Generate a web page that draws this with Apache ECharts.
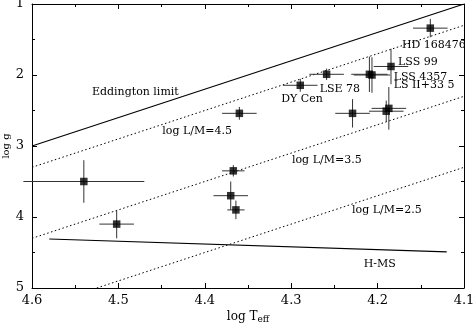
<!DOCTYPE html>
<html>
<head>
<meta charset="utf-8">
<script src="https://cdn.jsdelivr.net/npm/echarts@6/dist/echarts.min.js"></script>
<style>html,body{margin:0;padding:0;background:#fff}#c{width:474px;height:323px}</style>
</head>
<body>
<div id="c"></div>
<script>
// ---- data ----
var teff    = [4.139, 4.1845, 4.2095, 4.2065, 4.259, 4.2895, 4.360, 4.229, 4.190, 4.187, 4.540, 4.502, 4.367, 4.370, 4.364];
var logg    = [1.34, 1.88, 1.99, 2.00, 1.99, 2.145, 2.54, 2.54, 2.51, 2.47, 3.50, 4.10, 3.35, 3.70, 3.90];
var teffErr = [0.02, 0.02, 0.021, 0.021, 0.02, 0.02, 0.02, 0.02, 0.02, 0.02, 0.07, 0.02, 0.013, 0.02, 0.01];
var loggErr = [0.13, 0.25, 0.25, 0.25, 0.08, 0.09, 0.09, 0.2, 0.15, 0.3, 0.3, 0.2, 0.08, 0.2, 0.13];

var eddington = [[4.6, 3.0], [4.1, 1.0]];
var lm45 = [[4.6, 3.3], [4.1, 1.3]];
var lm35 = [[4.6, 4.3], [4.1, 2.3]];
var lm25 = [[4.525, 5.0], [4.1, 3.3]];
var hms  = [[4.58, 4.31], [4.12, 4.49]];

var xTicks = [4.6, 4.5, 4.4, 4.3, 4.2, 4.1];
var yTicks = [1, 2, 3, 4, 5];

var labelTexts = ['Eddington limit', 'log L/M=4.5', 'log L/M=3.5', 'log L/M=2.5', 'H-MS',
                  'HD 168476', 'LSS 99', 'LSS 4357', 'LS II+33 5', 'LSE 78', 'DY Cen'];
var labelT = [4.5306, 4.4492, 4.2991, 4.2296, 4.2161, 4.1718, 4.1764, 4.1814, 4.1814, 4.267, 4.3115];
var labelG = [2.239, 2.789, 3.197, 3.901, 4.662, 1.577, 1.813, 2.024, 2.145, 2.201, 2.338];

// ---- chart ----
var FONT = '"DejaVu Serif", "Liberation Serif", serif';
var chart = echarts.init(document.getElementById('c'), null, {renderer: 'canvas'});

function xAx(pos, showLabel) {
  return {
    type: 'value', position: pos, min: 4.1, max: 4.6, interval: 0.1, inverse: true,
    axisLine: {show: true, onZero: false, lineStyle: {color: '#000', width: 1}},
    axisTick: {show: true, inside: true, length: 5, lineStyle: {color: '#000'}},
    minorTick: {show: true, splitNumber: 2, length: 3, lineStyle: {color: '#000'}},
    splitLine: {show: false},
    axisLabel: {show: showLabel, color: '#000', fontFamily: FONT, fontSize: 13, margin: 6,
      formatter: function (v) { return v.toFixed(1); }},
    name: showLabel ? '{a|log T}{s|eff}' : '',
    nameLocation: 'middle', nameGap: 21, nameMoveOverlap: false,
    nameTextStyle: {color: '#000', fontFamily: FONT, fontSize: 12,
      rich: {a: {fontFamily: FONT, fontSize: 12, color: '#000'},
             s: {fontFamily: FONT, fontSize: 9, color: '#000', padding: [6, 0, 0, 0]}}}
  };
}
function yAx(pos, showLabel) {
  return {
    type: 'value', position: pos, min: 1, max: 5, interval: 1, inverse: true,
    axisLine: {show: true, onZero: false, lineStyle: {color: '#000', width: 1}},
    axisTick: {show: true, inside: true, length: 5, lineStyle: {color: '#000'}},
    minorTick: {show: true, splitNumber: 2, length: 3, lineStyle: {color: '#000'}},
    splitLine: {show: false},
    axisLabel: {show: showLabel, color: '#000', fontFamily: FONT, fontSize: 13, margin: 8},
    name: showLabel ? 'log g' : '',
    nameLocation: 'middle', nameGap: 21, nameRotate: 90, nameMoveOverlap: false,
    nameTextStyle: {color: '#000', fontFamily: FONT, fontSize: 10}
  };
}

var errData = teff.map(function (t, i) { return [t, logg[i], teffErr[i], loggErr[i]]; });
var ptsData = teff.map(function (t, i) { return [t, logg[i]]; });

function lineSeries(data, type, width) {
  return {
    type: 'line', data: data, symbol: 'none', silent: true, animation: false,
    lineStyle: {color: '#000', width: width, type: type}, z: 2
  };
}

chart.setOption({
  animation: false,
  backgroundColor: '#fff',
  grid: {left: 32, right: 10, top: 4, bottom: 35, containLabel: false, outerBoundsMode: 'none'},
  xAxis: [xAx('bottom', true), xAx('top', false)],
  yAxis: [yAx('left', true), yAx('right', false)],
  series: [
    lineSeries(eddington, 'solid', 1.2),
    lineSeries(lm45, [1.5, 2.5], 1),
    lineSeries(lm35, [1.5, 2.5], 1),
    lineSeries(lm25, [1.5, 2.5], 1),
    lineSeries(hms, 'solid', 1.2),
    {
      type: 'custom', data: errData, clip: false, z: 3, silent: true,
      renderItem: function (params, api) {
        var t = api.value(0), g = api.value(1), dt = api.value(2), dg = api.value(3);
        var l = api.coord([t + dt, g]), r = api.coord([t - dt, g]);
        var u = api.coord([t, g - dg]), d = api.coord([t, g + dg]);
        var st = {stroke: '#333', lineWidth: 1, fill: null};
        return {type: 'group', children: [
          {type: 'line', shape: {x1: l[0], y1: l[1], x2: r[0], y2: r[1]}, style: st},
          {type: 'line', shape: {x1: u[0], y1: u[1], x2: d[0], y2: d[1]}, style: st}
        ]};
      }
    },
    {
      type: 'scatter', data: ptsData, symbol: 'rect', symbolSize: 7.5, z: 4, silent: true,
      itemStyle: {color: '#000'}
    }
  ]
});

// annotation texts placed at data coordinates
var texts = labelTexts.map(function (s, i) {
  var p = chart.convertToPixel({xAxisIndex: 0, yAxisIndex: 0}, [labelT[i], labelG[i]]);
  return {
    type: 'text', x: p[0], y: p[1], silent: true, z: 10,
    style: {text: s, fill: '#000', font: '11px ' + FONT, textAlign: 'left', textVerticalAlign: 'middle'}
  };
});
chart.setOption({graphic: texts});
</script>
</body>
</html>
